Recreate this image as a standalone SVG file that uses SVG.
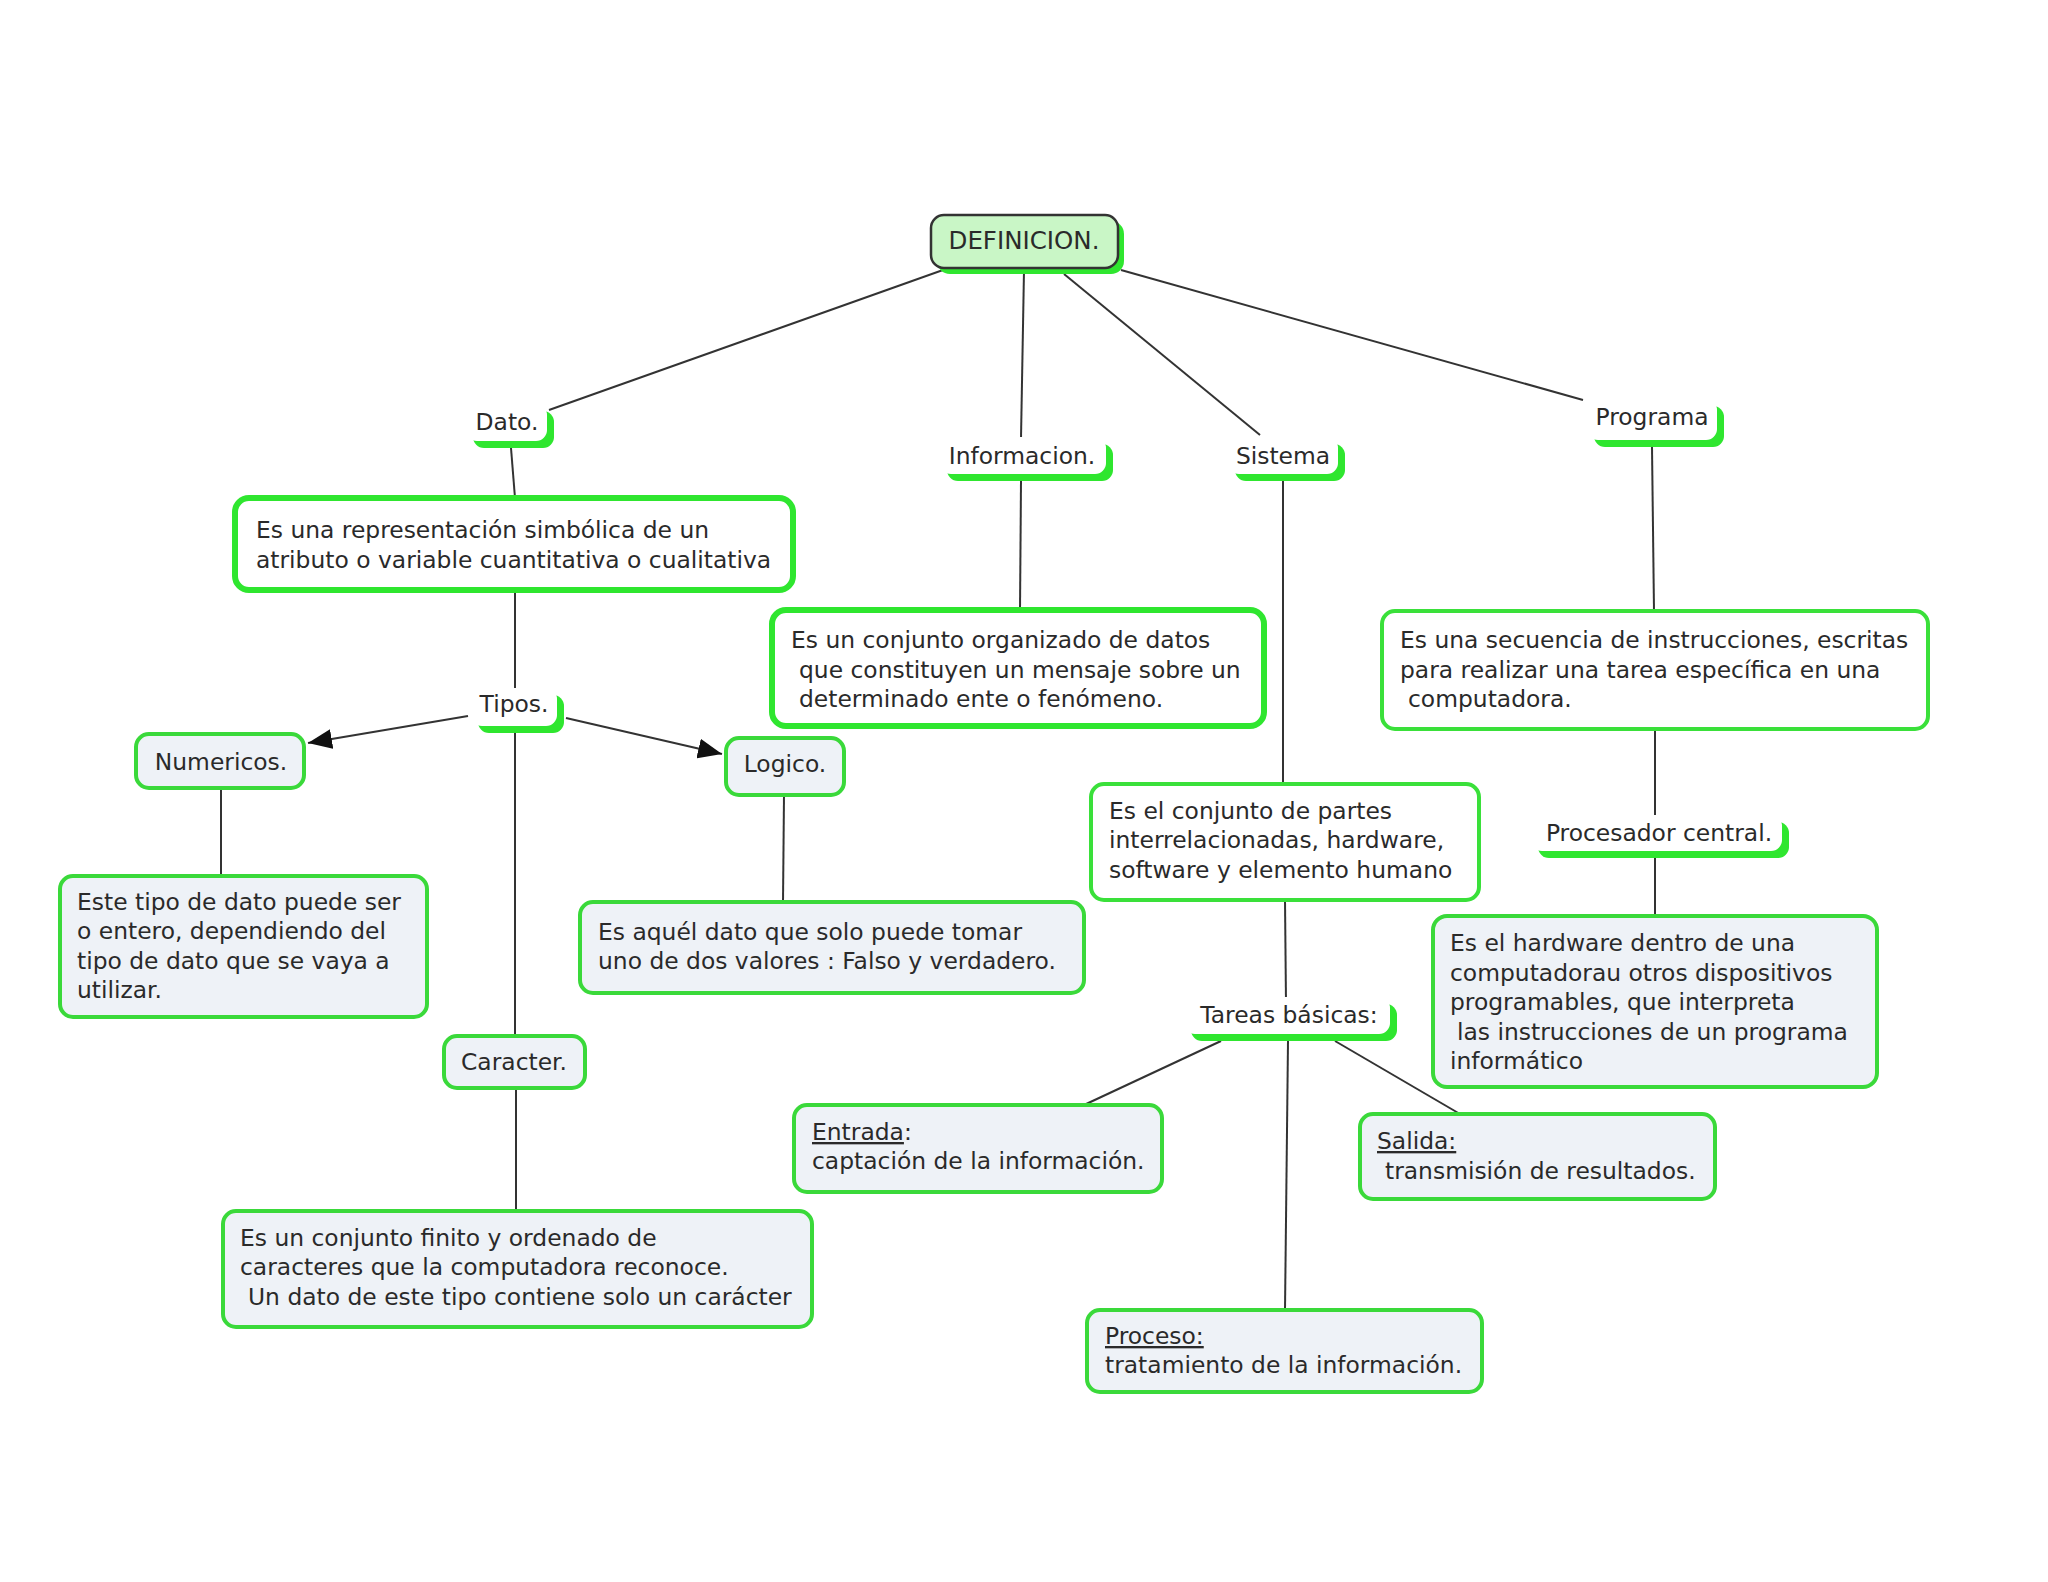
<svg xmlns="http://www.w3.org/2000/svg" width="2048" height="1582" viewBox="0 0 2048 1582">
<style>
text{font-family:"DejaVu Sans","Verdana",sans-serif;font-size:23.4px;fill:#2a2a2a}
.lbl{text-anchor:middle}
.sh{fill:#2fe62f}
.wh{fill:#ffffff}
.thick{fill:#ffffff;stroke:#2fe62f;stroke-width:6}
.mid{fill:#ffffff;stroke:#3ae03a;stroke-width:4}
.blue{fill:#eef2f7;stroke:#3ad93a;stroke-width:4}
.con line{stroke:#333;stroke-width:2}
.u{text-decoration:underline}
</style>
<defs>
<marker id="arr" viewBox="0 0 24 20" refX="24" refY="10" markerWidth="24" markerHeight="20" orient="auto" markerUnits="userSpaceOnUse"><path d="M0,0 L24,10 L0,20 z" fill="#111"/></marker>
</defs>
<rect width="2048" height="1582" fill="#ffffff"/>

<g class="con">
<line x1="943" y1="270" x2="549" y2="410"/>
<line x1="1024" y1="270" x2="1021" y2="438"/>
<line x1="1064" y1="274" x2="1260" y2="435"/>
<line x1="1121" y1="270" x2="1583" y2="400"/>
<line x1="511" y1="448" x2="515" y2="498"/>
<line x1="515" y1="590" x2="515" y2="690"/>
<line x1="468" y1="716" x2="308" y2="743" marker-end="url(#arr)"/>
<line x1="566" y1="718" x2="722" y2="754" marker-end="url(#arr)"/>
<line x1="221" y1="788" x2="221" y2="876"/>
<line x1="784" y1="795" x2="783" y2="902"/>
<line x1="515" y1="733" x2="515" y2="1036"/>
<line x1="516" y1="1088" x2="516" y2="1211"/>
<line x1="1021" y1="481" x2="1020" y2="610"/>
<line x1="1283" y1="481" x2="1283" y2="784"/>
<line x1="1285" y1="900" x2="1286" y2="1004"/>
<line x1="1221" y1="1041" x2="1084" y2="1105"/>
<line x1="1288" y1="1041" x2="1285" y2="1310"/>
<line x1="1335" y1="1041" x2="1460" y2="1114"/>
<line x1="1652" y1="447" x2="1654" y2="611"/>
<line x1="1655" y1="729" x2="1655" y2="822"/>
<line x1="1655" y1="858" x2="1655" y2="916"/>
</g>

<g id="definicion">
<rect x="937" y="221" width="187" height="53" rx="13" class="sh"/>
<rect x="931" y="215" width="187" height="53" rx="13" fill="#c9f6c6" stroke="#333" stroke-width="2.5"/>
<text x="1024" y="249" class="lbl" style="font-size:24.5px">DEFINICION.</text>
</g>

<g id="dato">
<rect x="473" y="411" width="81" height="37" rx="11" class="sh"/>
<rect x="466" y="404" width="81" height="37" rx="11" class="wh"/>
<text x="507" y="430" class="lbl">Dato.</text>
</g>

<g id="dato-def">
<rect x="235" y="498" width="558" height="92" rx="14" class="thick"/>
<text x="256" y="538">Es una representación simbólica de un</text>
<text x="256" y="568">atributo o variable cuantitativa o cualitativa</text>
</g>

<g id="tipos">
<rect x="478" y="695" width="86" height="38" rx="11" class="sh"/>
<rect x="471" y="688" width="86" height="38" rx="11" class="wh"/>
<text x="514" y="712" class="lbl">Tipos.</text>
</g>

<g id="numericos">
<rect x="136" y="734" width="168" height="54" rx="13" class="blue"/>
<text x="221" y="770" class="lbl">Numericos.</text>
</g>

<g id="numericos-def">
<rect x="60" y="876" width="367" height="141" rx="13" class="blue"/>
<text x="77" y="910">Este tipo de dato puede ser</text>
<text x="77" y="939">o entero, dependiendo del</text>
<text x="77" y="969">tipo de dato que se vaya a</text>
<text x="77" y="998">utilizar.</text>
</g>

<g id="logico">
<rect x="726" y="738" width="118" height="57" rx="13" class="blue"/>
<text x="785" y="772" class="lbl">Logico.</text>
</g>

<g id="logico-def">
<rect x="580" y="902" width="504" height="91" rx="13" class="blue"/>
<text x="598" y="940">Es aquél dato que solo puede tomar</text>
<text x="598" y="969">uno de dos valores : Falso y verdadero.</text>
</g>

<g id="caracter">
<rect x="444" y="1036" width="141" height="52" rx="13" class="blue"/>
<text x="514" y="1070" class="lbl">Caracter.</text>
</g>

<g id="caracter-def">
<rect x="223" y="1211" width="589" height="116" rx="13" class="blue"/>
<text x="240" y="1246">Es un conjunto finito y ordenado de</text>
<text x="240" y="1275">caracteres que la computadora reconoce.</text>
<text x="248" y="1305">Un dato de este tipo contiene solo un carácter</text>
</g>

<g id="informacion">
<rect x="947" y="444" width="166" height="37" rx="11" class="sh"/>
<rect x="940" y="437" width="166" height="37" rx="11" class="wh"/>
<text x="1022" y="464" class="lbl">Informacion.</text>
</g>

<g id="informacion-def">
<rect x="772" y="610" width="492" height="116" rx="14" class="thick"/>
<text x="791" y="648">Es un conjunto organizado de datos</text>
<text x="799" y="678">que constituyen un mensaje sobre un</text>
<text x="799" y="707">determinado ente o fenómeno.</text>
</g>

<g id="sistema">
<rect x="1235" y="444" width="110" height="37" rx="11" class="sh"/>
<rect x="1228" y="437" width="110" height="37" rx="11" class="wh"/>
<text x="1283" y="464" class="lbl">Sistema</text>
</g>

<g id="sistema-def">
<rect x="1091" y="784" width="388" height="116" rx="13" class="mid"/>
<text x="1109" y="819">Es el conjunto de partes</text>
<text x="1109" y="848">interrelacionadas, hardware,</text>
<text x="1109" y="878">software y elemento humano</text>
</g>

<g id="tareas">
<rect x="1191" y="1004" width="206" height="37" rx="11" class="sh"/>
<rect x="1184" y="997" width="206" height="37" rx="11" class="wh"/>
<text x="1289" y="1023" class="lbl">Tareas básicas:</text>
</g>

<g id="entrada">
<rect x="794" y="1105" width="368" height="87" rx="13" class="blue"/>
<text x="812" y="1140"><tspan class="u">Entrada</tspan>:</text>
<text x="812" y="1169">captación de la información.</text>
</g>

<g id="salida">
<rect x="1360" y="1114" width="355" height="85" rx="13" class="blue"/>
<text x="1377" y="1149"><tspan class="u">Salida:</tspan></text>
<text x="1385" y="1179">transmisión de resultados.</text>
</g>

<g id="proceso">
<rect x="1087" y="1310" width="395" height="82" rx="13" class="blue"/>
<text x="1105" y="1344"><tspan class="u">Proceso:</tspan></text>
<text x="1105" y="1373">tratamiento de la información.</text>
</g>

<g id="programa">
<rect x="1594" y="406" width="130" height="41" rx="11" class="sh"/>
<rect x="1587" y="399" width="130" height="41" rx="11" class="wh"/>
<text x="1652" y="425" class="lbl">Programa</text>
</g>

<g id="programa-def">
<rect x="1382" y="611" width="546" height="118" rx="13" class="mid"/>
<text x="1400" y="648">Es una secuencia de instrucciones, escritas</text>
<text x="1400" y="678">para realizar una tarea específica en una</text>
<text x="1408" y="707">computadora.</text>
</g>

<g id="procesador">
<rect x="1538" y="822" width="251" height="36" rx="11" class="sh"/>
<rect x="1531" y="815" width="251" height="36" rx="11" class="wh"/>
<text x="1659" y="841" class="lbl">Procesador central.</text>
</g>

<g id="procesador-def">
<rect x="1433" y="916" width="444" height="171" rx="14" class="blue"/>
<text x="1450" y="951">Es el hardware dentro de una</text>
<text x="1450" y="981">computadorau otros dispositivos</text>
<text x="1450" y="1010">programables, que interpreta</text>
<text x="1457" y="1040">las instrucciones de un programa</text>
<text x="1450" y="1069">informático</text>
</g>
</svg>
